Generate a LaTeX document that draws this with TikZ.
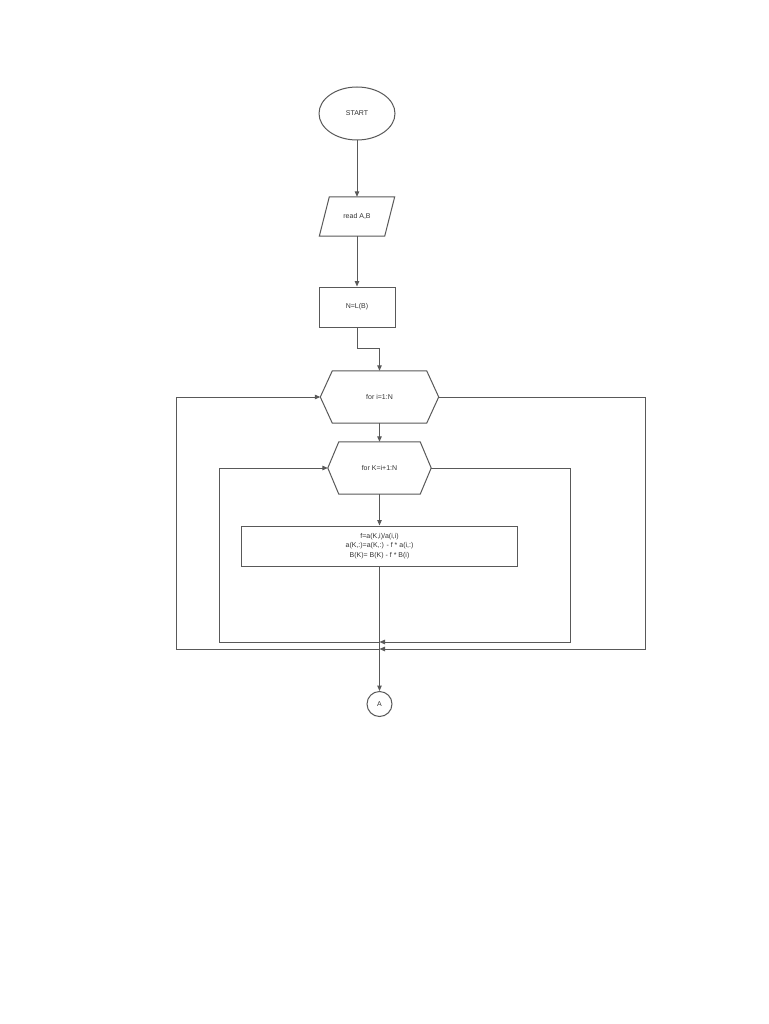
\documentclass[tikz,border=0pt]{standalone}
\usepackage{fontspec}
\setmainfont{Liberation Sans}
\usetikzlibrary{arrows.meta,calc,shapes.geometric}
\begin{document}
\begin{tikzpicture}[x=1pt,y=-1pt,
  ln/.style={draw=black!65,line width=1pt},
  arr/.style={ln,-{Triangle[length=5.5pt,width=4.5pt]}},
  txt/.style={font=\fontsize{7}{9.5}\selectfont,text=black!80,inner sep=0pt,align=center},
  boxnode/.style={txt,ln,rectangle},
  hexnode/.style={txt,rectangle},
]
\useasboundingbox[fill=white] (0,0) rectangle (768,1024);
% nodes
\node[txt,ln,ellipse,minimum width=76,minimum height=53] (start) at (357,113.5) {START};
\node[hexnode,minimum width=75,minimum height=39] (read) at (357,216.5) {read A,B};
\draw[ln] ($(read.north west)+(10,0)$) -- (read.north east) -- ($(read.south east)+(-10,0)$) -- (read.south west) -- cycle;
\node[boxnode,minimum width=76,minimum height=40] (nbox) at (357,307) {N=L(B)};
\node[hexnode,minimum width=118,minimum height=52] (fori) at (379.5,397) {for i=1:N};
\draw[ln] (fori.west) -- ($(fori.north west)+(12,0)$) -- ($(fori.north east)+(-12,0)$) -- (fori.east) -- ($(fori.south east)+(-12,0)$) -- ($(fori.south west)+(12,0)$) -- cycle;
\node[hexnode,minimum width=103,minimum height=52] (fork) at (379.5,468) {for K=i+1:N};
\draw[ln] (fork.west) -- ($(fork.north west)+(11,0)$) -- ($(fork.north east)+(-11,0)$) -- (fork.east) -- ($(fork.south east)+(-11,0)$) -- ($(fork.south west)+(11,0)$) -- cycle;
\node[boxnode,minimum width=276,minimum height=40] (body) at (379.5,546) {f=a(K,i)/a(i,i)\\a(K,:)=a(K,:) - f * a(i,:)\\B(K)= B(K) - f * B(i)};
\node[txt,ln,circle,minimum size=25] (A) at (379.5,704) {A};
\coordinate (j1) at (379.5,642);
\coordinate (j2) at (379.5,649);
% connectors
\draw[arr] (start) -- (read);
\draw[arr] (read.south) -- (nbox.north);
\draw[arr] (nbox.south) -- ++(0,21) -| (fori.north);
\draw[arr] (fori) -- (fork);
\draw[arr] (fork) -- (body);
\draw[arr] (body) -- (A);
\draw[arr] (fork.east) -- (570,468) |- (j1);
\draw[arr] (j1) -- (219,642) |- (fork.west);
\draw[arr] (fori.east) -- (645,397) |- (j2);
\draw[arr] (j2) -- (176,649) |- (fori.west);
\end{tikzpicture}
\end{document}
